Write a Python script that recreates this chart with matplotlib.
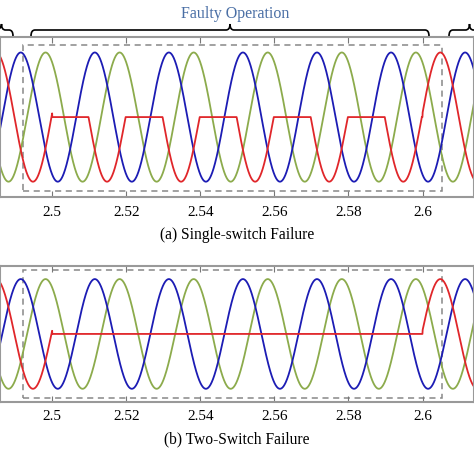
import numpy as np
import matplotlib
matplotlib.use("Agg")
import matplotlib.pyplot as plt
from matplotlib.path import Path
from matplotlib.patches import PathPatch, Rectangle

# data: three-phase signals (50 Hz), peak times of each phase
freq_hz = 50.0
amplitude = 1.0
phase_names = ["blue", "green", "red"]
peak_times = [2.4915, 2.4982, 2.5048]
fault_start, fault_end = 2.5, 2.6
xticks = [2.5, 2.52, 2.54, 2.56, 2.58, 2.6]
xtick_labels = ["2.5", "2.52", "2.54", "2.56", "2.58", "2.6"]
titles = ["(a) Single-switch Failure", "(b) Two-Switch Failure"]
xlim = (2.4859, 2.6139)

colors = {"blue": "#1c1cb4", "green": "#8cab4c", "red": "#e0262a"}
plt.rcParams['font.family'] = ['Liberation Serif', 'DejaVu Serif']

t = np.linspace(xlim[0], xlim[1], 4000)
waves = {n: amplitude*np.cos(2*np.pi*freq_hz*(t-p)) for n, p in zip(phase_names, peak_times)}
fault = (t >= fault_start) & (t < fault_end)
red_a = np.where(fault, np.minimum(waves["red"], 0), waves["red"])
red_b = np.where(fault, 0.0, waves["red"])

fig = plt.figure(figsize=(4.74, 4.74), dpi=100)
axes = [fig.add_axes([0, 0.584, 1, 0.338]), fig.add_axes([0, 0.152, 1, 0.287])]
for ax, red, title in zip(axes, [red_a, red_b], titles):
    ax.plot(t, waves["green"], color=colors["green"], lw=1.3)
    ax.plot(t, waves["blue"], color=colors["blue"], lw=1.3)
    ax.plot(t, red, color=colors["red"], lw=1.3)
    ax.set_xlim(*xlim)
    ax.set_ylim(-1.24, 1.24)
    ax.set_yticks([])
    ax.set_xticks(xticks)
    ax.set_xticklabels(xtick_labels, fontsize=11)
    ax.tick_params(axis='x', direction='in', top=True, length=4, color='#777777', pad=6)
    for s in ax.spines.values():
        s.set_color('#999999'); s.set_linewidth(1.5)
    ax.set_xlabel(title, fontsize=11.2, labelpad=6)

axes[0].add_patch(Rectangle((2.4920, -1.15), 2.6053-2.4920, 2.27, fill=False,
                            ls=(0, (4, 3)), ec='#888888', lw=1.1))
axes[1].add_patch(Rectangle((2.4920, -1.16), 2.6053-2.4920, 2.33, fill=False,
                            ls=(0, (4, 3)), ec='#888888', lw=1.1))

def brace(x1, x2, y, h, mid=True):
    W, H = 474, 474
    r = 4
    verts = [(x1, y), (x1, y+h), (x1+r, y+h)]
    codes = [Path.MOVETO, Path.CURVE3, Path.CURVE3]
    if mid:
        xm = (x1+x2)/2
        verts += [(xm-r, y+h), (xm, y+h), (xm, y+2*h), (xm, y+h), (xm+r, y+h)]
        codes += [Path.LINETO, Path.CURVE3, Path.CURVE3, Path.CURVE3, Path.CURVE3]
    verts += [(x2-r, y+h), (x2, y+h), (x2, y)]
    codes += [Path.LINETO, Path.CURVE3, Path.CURVE3]
    verts = [(vx/W, 1-vy/H) for vx, vy in verts]
    fig.add_artist(PathPatch(Path(verts, codes), fill=False, lw=1.2, ec='black',
                             transform=fig.transFigure))

brace(-10, 13, 36, -6)
brace(31, 429, 36, -6)
brace(449, 490, 36, -6)
fig.text(235/474, 1-14/474, "Faulty Operation", ha='center', va='center',
         color='#4a6fa5', fontsize=11.5)

fig.savefig("out.png", dpi=100)
